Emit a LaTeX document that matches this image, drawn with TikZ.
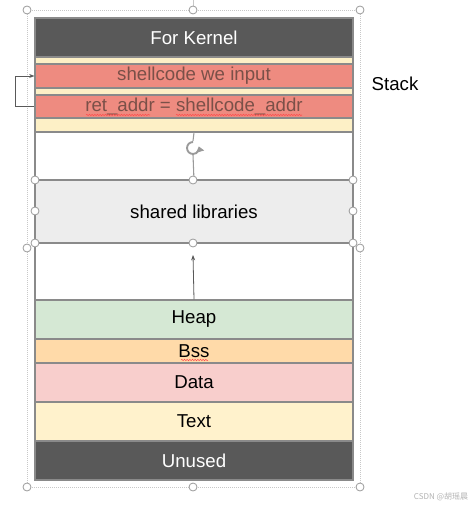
\documentclass[tikz,border=0pt]{standalone}
\usepackage{fontspec}
\setmainfont{Liberation Sans}
\newfontfamily\cjk{Noto Sans CJK SC}
\usetikzlibrary{fit,arrows.meta,decorations.pathmorphing}
\definecolor{kern}{HTML}{595959}
\definecolor{cream}{HTML}{FDF0C6}
\definecolor{redb}{HTML}{EE8B80}
\definecolor{redtxt}{HTML}{7A5048}
\definecolor{shared}{HTML}{EDEDED}
\definecolor{heapc}{HTML}{D5E8D4}
\definecolor{bssc}{HTML}{FFDAA9}
\definecolor{datac}{HTML}{F8CECC}
\definecolor{textc}{HTML}{FFF2CC}
\definecolor{bordc}{HTML}{8A8A8A}
\definecolor{handc}{HTML}{9A9A9A}
\definecolor{selc}{HTML}{C8C8C8}
\begin{document}
\begin{tikzpicture}[x=0.75pt,y=-0.75pt,
  font=\fontsize{14}{16}\selectfont,
  band/.style={draw=bordc, line width=0.8pt, inner sep=0pt},
  lbl/.style={inner sep=0pt},
  handle/.style={circle, draw=handc, fill=white, line width=0.6pt, minimum size=6pt, inner sep=0pt},
  squig/.style={draw=red!70, line width=0.4pt, decorate, decoration={snake, amplitude=0.5pt, segment length=2pt}}]
\useasboundingbox (0,0) rectangle (474,505);
% selection frame
\draw[selc, densely dotted, line width=0.5pt] (27,10) rectangle (360,487);
\draw[selc, line width=0.5pt] (193,0) -- (193,10);
% bands
\node[band, fill=kern, fit={(35,18)(353,57)}] (kernel) {};
\node[band, fill=cream, fit={(35,57)(353,132)}] (stack) {};
\node[band, fill=redb, fit={(35,64)(353,88)}] (shell) {};
\node[band, fill=redb, fit={(35,95)(353,118)}] (ret) {};
\node[band, fill=white, fit={(35,132)(353,180)}] (gap1) {};
\node[band, fill=shared, fit={(35,180)(353,243)}] (shared) {};
\node[band, fill=white, fit={(35,243)(353,300)}] (gap2) {};
\node[band, fill=heapc, fit={(35,300)(353,339)}] (heap) {};
\node[band, fill=bssc, fit={(35,339)(353,363)}] (bss) {};
\node[band, fill=datac, fit={(35,363)(353,402)}] (data) {};
\node[band, fill=textc, fit={(35,402)(353,441)}] (textseg) {};
\node[band, fill=kern, fit={(35,441)(353,480)}] (unused) {};
% labels
\node[lbl, text=white] (kernelt) at (kernel.center) {For Kernel};
\node[lbl, text=redtxt] (shellt) at (shell.center) {shellcode we input};
\node[lbl, text=redtxt] (rett) at (ret.center) {ret\_addr = shellcode\_addr};
\node[lbl] (sharedt) at (shared.center) {shared libraries};
\node[lbl] (heapt) at (heap.center) {Heap};
\node[lbl] (bsst) at (bss.center) {Bss};
\node[lbl] (datat) at (data.center) {Data};
\node[lbl] (textt) at (textseg.center) {Text};
\node[lbl, text=white] (unusedt) at (unused.center) {Unused};
% spell-check squiggles
\draw[squig] (86,115) -- (150,115);
\draw[squig] (176,115) -- (302,115);
\draw[squig] (181,360) -- (208,360);
% loop connector
\draw[kern, line width=0.6pt, -{Stealth[length=4pt,width=3pt]}] (ret.west) -- ++(-19,0) |- (shell.west);
% heap growth arrow
\coordinate (hp) at (193,255);
\draw[kern, line width=0.6pt, -{Stealth[length=4pt,width=3pt]}] (heap.north) -- (hp);
% rotation handle
\coordinate (rot) at (193,148);
\draw[handc, line width=0.8pt] (stack.south) -- (193,141);
\draw[handc, line width=0.8pt] (193,155) -- (gap1.south);
\draw[handc, line width=1.4pt, -{Triangle[length=4pt,width=6pt]}] (rot) ++(0,-6) arc[start angle=-90, end angle=-375, radius=6];
% stack label
\node (stacklbl) at (395,84) {Stack};
% selection handles (shared libraries)
\foreach \p in {(35,180),(193,180),(353,180),(35,211),(353,211),(35,243),(193,243),(353,243)}
  \node[handle] at \p {};
% selection handles (outer)
\foreach \p in {(27,10),(193,10),(360,10),(27,248),(360,248),(27,487),(193,487),(360,487)}
  \node[handle] at \p {};
% watermark
\node[text=black!30, font=\cjk\fontsize{6}{7}\selectfont] (wm) at (441,497) {CSDN @胡瑶晨};
\end{tikzpicture}
\end{document}
